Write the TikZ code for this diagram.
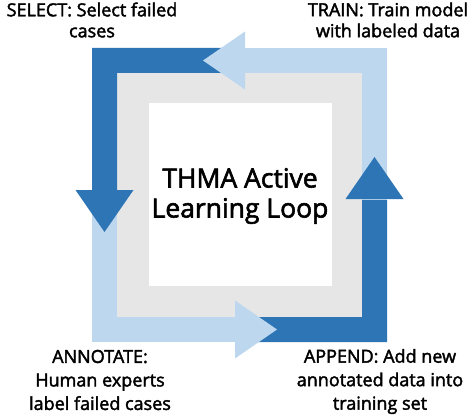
\documentclass[tikz,border=0pt]{standalone}
\usepackage{fontspec}
\setmainfont{Open Sans}[FakeBold=2.2]
\definecolor{fonce}{HTML}{2E75B6}
\definecolor{clair}{HTML}{BDD7EE}
\definecolor{gris}{HTML}{E7E6E6}
\newcommand{\cadre}[3]{\fill[#1] (#2) rectangle (#3)}
\newcommand{\pointe}[3]{\fill[#1,shift={(#2)},rotate=#3]
	(0,0) -- (-42,-29) -- (-42,29) -- cycle}

\begin{document}
\begin{tikzpicture}[x=1pt,y=-1pt,
	etiq/.style={align=center,inner sep=0,font=\fontsize{18}{21}\selectfont},
	etiqbas/.style={etiq,font=\fontsize{18}{23.5}\selectfont},
	titre/.style={align=center,inner sep=0,font=\fontsize{26.5}{30}\selectfont}]
\useasboundingbox (0,0) rectangle (474,417);
%Frames
	\cadre{clair}{92,48}{387,342};
	\cadre{gris}{117,73}{362,317};
	\cadre{white}{149,103}{332,286};
%Dark arms
	\fill[fonce] (225,48) -- (92,48) -- (92,190) -- (117,190) -- (117,73) -- (225,73) -- cycle;
	\fill[fonce] (250,317) -- (362,317) -- (362,200) -- (387,200) -- (387,342) -- (250,342) -- cycle;
%Arrow heads
	\pointe{fonce}{104.5,232}{270};
	\pointe{fonce}{374.5,157}{90};
	\pointe{clair}{203,60.5}{180};
	\pointe{clair}{277,329.5}{0};
%Labels
	\node[titre] (loop) at (240,196) {THMA Active\\Learning Loop};
	\node[etiq] (select) at (92,20) {SELECT: Select failed\\cases};
	\node[etiq] (train) at (388,20) {TRAIN: Train model\\with labeled data};
	\node[etiqbas] (annotate) at (100,380) {ANNOTATE:\\Human experts\\label failed cases};
	\node[etiqbas] (append) at (380,381.5) {APPEND: Add new\\annotated data into\\training set};
\end{tikzpicture}
\end{document}
